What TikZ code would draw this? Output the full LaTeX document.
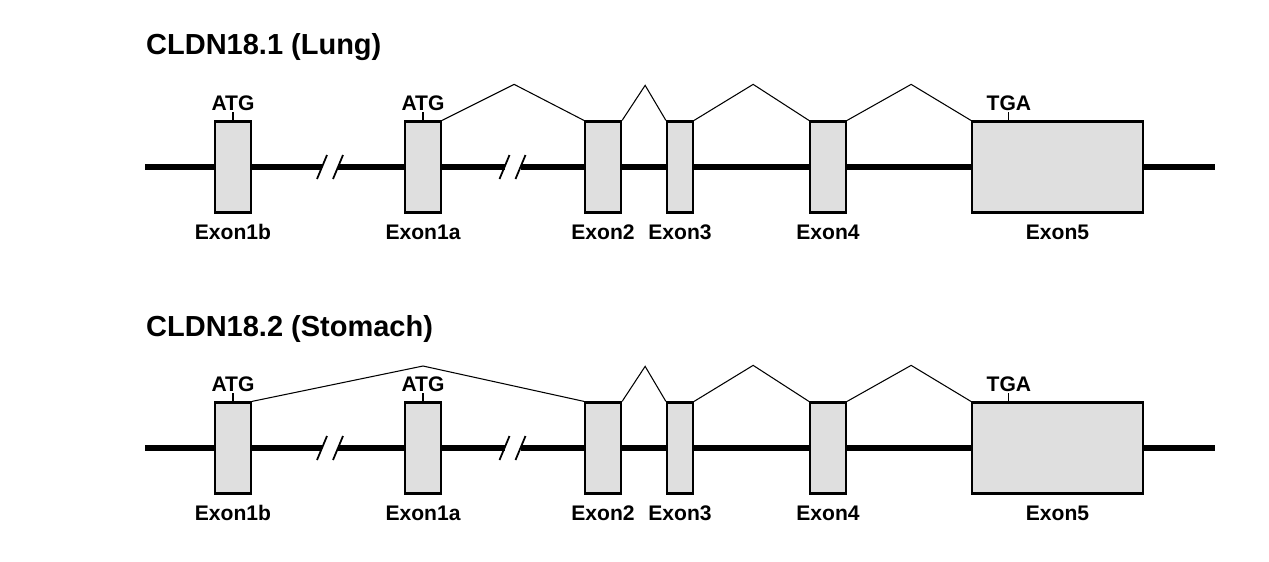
\documentclass[tikz,border=0pt]{standalone}
\usepackage{fontspec}
\setmainfont{Liberation Sans}
\usetikzlibrary{positioning}
\tikzset{
  exon/.style={rectangle, draw, black, line width=1.3pt, fill=gray!25, inner sep=0pt, minimum height=1.82cm},
  backbone/.style={line width=3pt},
  splice/.style={line width=0.6pt},
  tick/.style={line width=0.6pt},
  exlabel/.style={font=\bfseries\fontsize{12}{14}\selectfont, text height=1.6ex, text depth=0.3ex},
  codon/.style={font=\bfseries\fontsize{12}{14}\selectfont, inner sep=1pt},
  title/.style={font=\bfseries\fontsize{16.5}{19}\selectfont, anchor=west}
}
\newcommand{\brk}[2]{%
  \fill[white] (#1-0.16,#2-0.12) rectangle (#1+0.16,#2+0.12);
  \draw[line width=1pt] (#1-0.26,#2-0.24) -- (#1-0.06,#2+0.24);
  \draw[line width=1pt] (#1+0.06,#2-0.24) -- (#1+0.26,#2+0.24);}
\begin{document}
\begin{tikzpicture}
\useasboundingbox (0,0) rectangle (25.38,-11.22);
\foreach \iso/\ttl/\dy in {a/{CLDN18.1 (Lung)}/0, b/{CLDN18.2 (Stomach)}/5.62} {
  \begin{scope}[yshift=-\dy cm]
  \node[title] (title\iso) at (2.8,-0.95) {\ttl};
  % backbone
  \coordinate (l\iso) at (2.9,-3.34);
  \coordinate (r\iso) at (24.3,-3.34);
  \draw[backbone] (l\iso) -- (r\iso);
  \brk{6.6}{-3.34}
  \brk{10.25}{-3.34}
  % exons
  \node[exon, minimum width=0.72cm] (ex1b\iso) at (4.66,-3.34) {};
  \node[exon, minimum width=0.72cm] (ex1a\iso) at (8.46,-3.34) {};
  \node[exon, minimum width=0.72cm] (ex2\iso) at (12.06,-3.34) {};
  \node[exon, minimum width=0.52cm] (ex3\iso) at (13.6,-3.34) {};
  \node[exon, minimum width=0.72cm] (ex4\iso) at (16.56,-3.34) {};
  \node[exon, minimum width=3.42cm] (ex5\iso) at (21.15,-3.34) {};
  % labels
  \node[exlabel, below=0.1cm of ex1b\iso] {Exon1b};
  \node[exlabel, below=0.1cm of ex1a\iso] {Exon1a};
  \node[exlabel, below=0.1cm of ex2\iso] {Exon2};
  \node[exlabel, below=0.1cm of ex3\iso] {Exon3};
  \node[exlabel, below=0.1cm of ex4\iso] {Exon4};
  \node[exlabel, below=0.1cm of ex5\iso] {Exon5};
  % start / stop codons
  \node[codon, above=0.16cm of ex1b\iso.north] (atgb\iso) {ATG};
  \node[codon, above=0.16cm of ex1a\iso.north] (atga\iso) {ATG};
  \node[codon, above=0.16cm of ex5\iso.north west, xshift=0.76cm] (tga\iso) {TGA};
  \draw[tick] (atgb\iso.south) -- (ex1b\iso.north);
  \draw[tick] (atga\iso.south) -- (ex1a\iso.north);
  \draw[tick] (tga\iso.south) -- (tga\iso.south |- ex5\iso.north);
  % common splice junctions
  \draw[splice] (ex2\iso.north east) -- ++(0.46,0.7) coordinate (p23\iso) -- (ex3\iso.north west);
  \draw[splice] (ex3\iso.north east) -- ++(1.18,0.72) coordinate (p34\iso) -- (ex4\iso.north west);
  \draw[splice] (ex4\iso.north east) -- ++(1.28,0.72) coordinate (p45\iso) -- (ex5\iso.north west);
  \end{scope}
}
\draw[splice] (ex1aa.north east) -- ++(1.44,0.72) coordinate (p12a) -- (ex2a.north west);
\coordinate (p12b) at (8.46,-7.32);
\draw[splice] (ex1bb.north east) -- (p12b) -- (ex2b.north west);
\end{tikzpicture}
\end{document}
